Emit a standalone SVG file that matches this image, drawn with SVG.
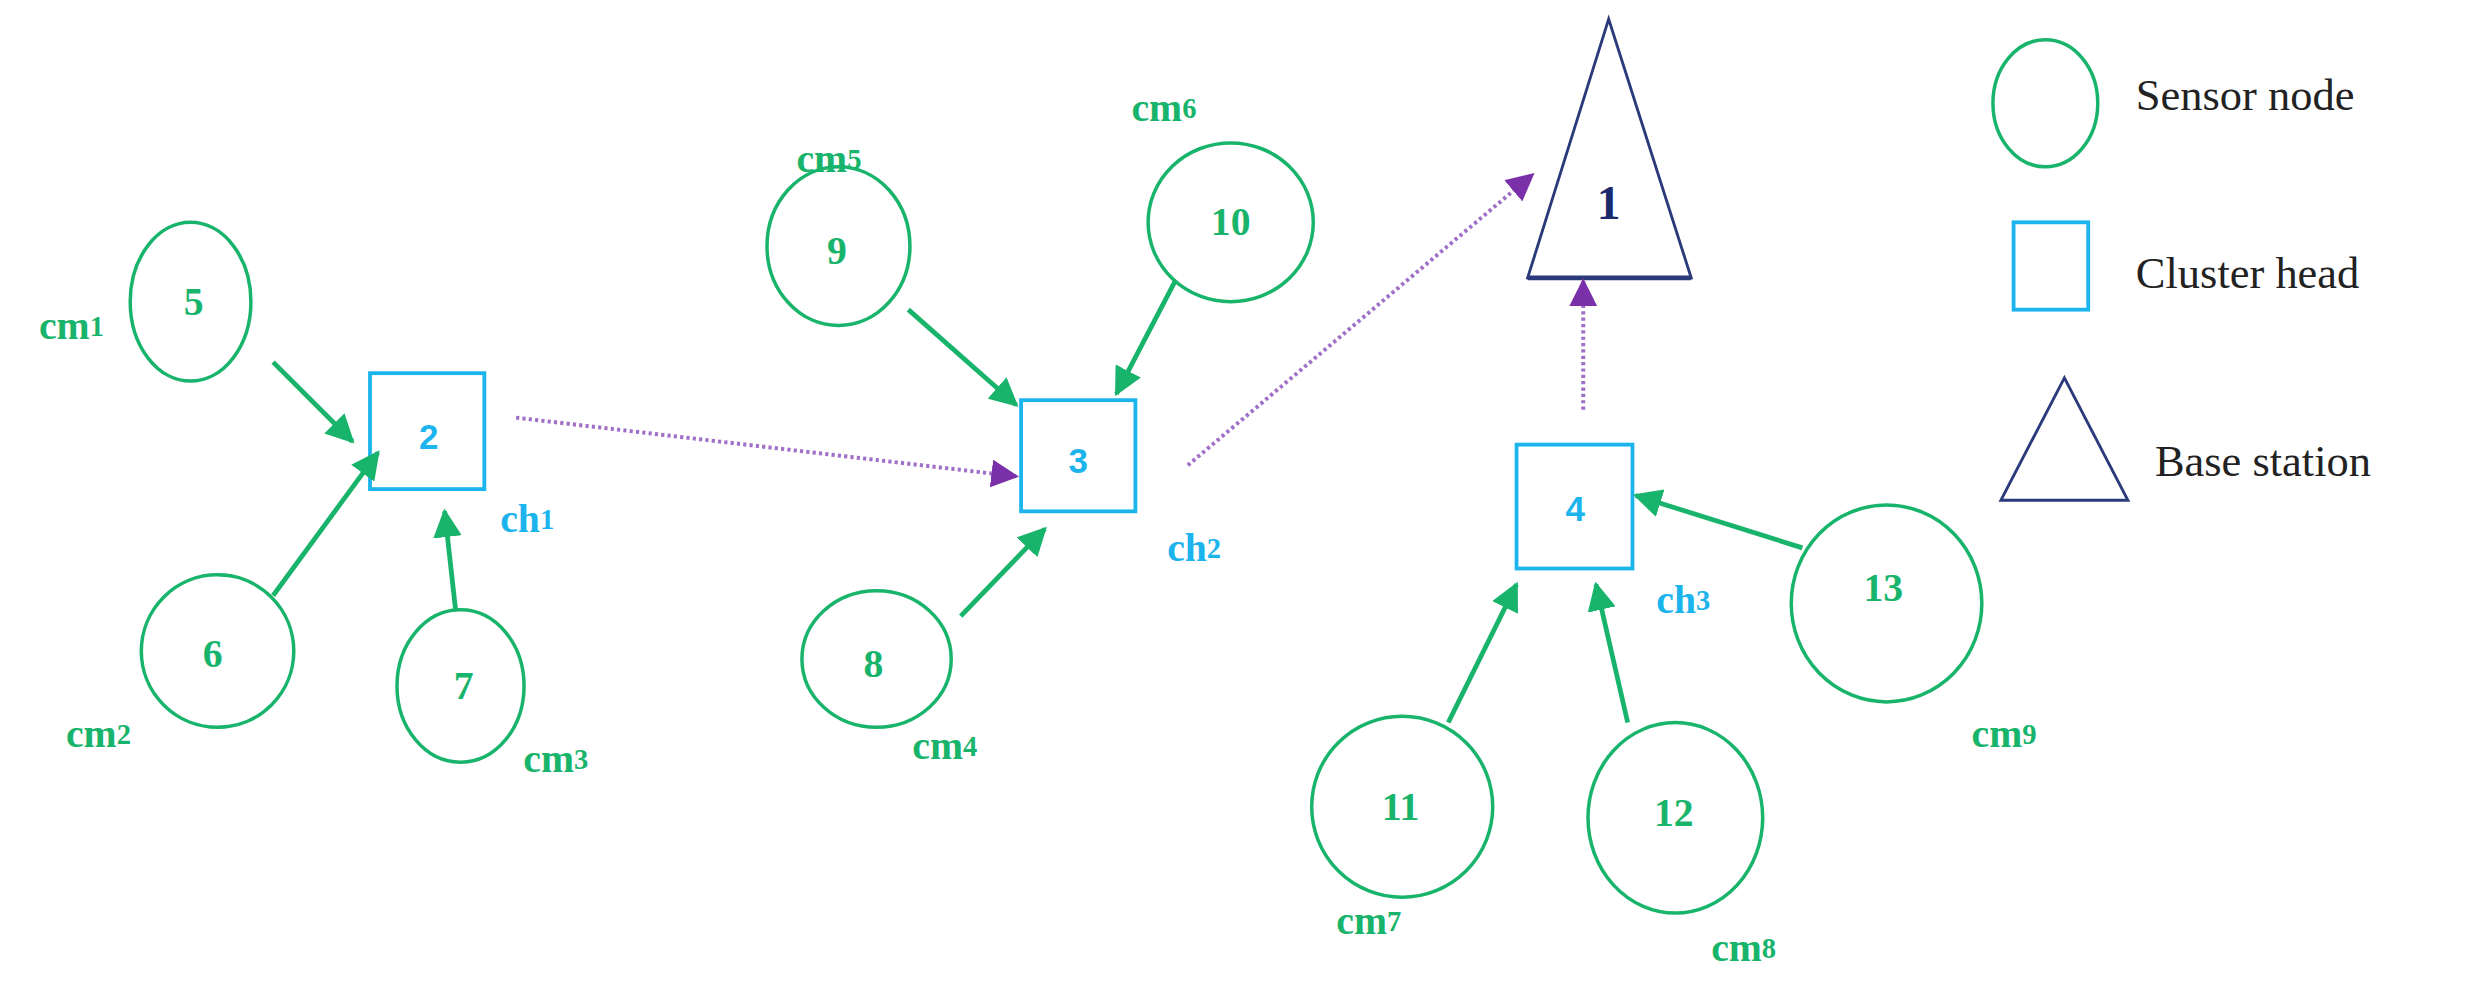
<svg xmlns="http://www.w3.org/2000/svg" width="2490" height="993" viewBox="0 0 2490 993">
<style>
.s{fill:none;stroke:#19b46c;stroke-width:2.2}
.h{fill:none;stroke:#1cb4ec;stroke-width:2.4}
.t{fill:#fff;stroke:#2b3a7a;stroke-width:1.8}
.n{font-family:"Liberation Serif",serif;font-weight:bold;font-size:25px;fill:#19b46c;text-anchor:middle;dominant-baseline:central}
.hn{font-family:"Liberation Sans",sans-serif;font-weight:bold;font-size:22px;fill:#1cb4ec;text-anchor:middle;dominant-baseline:central}
.l{font-family:"Liberation Serif",serif;font-weight:bold;font-size:25px;fill:#19b46c;text-anchor:middle;dominant-baseline:central}
.lh{font-family:"Liberation Serif",serif;font-weight:bold;font-size:25px;fill:#1cb4ec;text-anchor:middle;dominant-baseline:central}
.lg{font-family:"Liberation Serif",serif;font-size:28px;fill:#222;dominant-baseline:central}
.g{stroke:#19b46c;stroke-width:3;fill:none;marker-end:url(#ag)}
.p{stroke:#a070c8;stroke-width:2.5;stroke-dasharray:2 2;fill:none;marker-end:url(#ap)}
</style>
<defs>
<marker id="ag" viewBox="0 0 10 10" refX="9" refY="5" markerWidth="6" markerHeight="6" orient="auto"><path d="M0,0L10,5L0,10z" fill="#19b46c"/></marker>
<marker id="ap" viewBox="0 0 10 10" refX="9" refY="5" markerWidth="7" markerHeight="7" orient="auto"><path d="M0,0L10,5L0,10z" fill="#7a30a8"/></marker>
</defs>
<rect width="2490" height="993" fill="#fff"/>
<g transform="scale(1.588)">
<g id="n1"><polygon class="t" points="1013,12 962,175 1065,175"/><line x1="962" y1="175" x2="1065" y2="175" stroke="#2b3a7a" stroke-width="3"/><text x="1013" y="128" class="n" style="fill:#1a2a6a;font-size:30px">1</text></g>
<g id="n2"><rect class="h" x="233" y="235" width="72" height="73"/><text x="270" y="275" class="hn">2</text><text x="332" y="327" class="lh">ch<tspan font-size="18">1</tspan></text></g>
<g id="n3"><rect class="h" x="643" y="252" width="72" height="70"/><text x="679" y="290" class="hn">3</text><text x="752" y="345" class="lh">ch<tspan font-size="18">2</tspan></text></g>
<g id="n4"><rect class="h" x="955" y="280" width="73" height="78"/><text x="992" y="320" class="hn">4</text><text x="1060" y="378" class="lh">ch<tspan font-size="18">3</tspan></text></g>
<g id="n5"><ellipse class="s" cx="120" cy="190" rx="38" ry="50"/><text x="122" y="190" class="n">5</text><text x="45" y="205" class="l">cm<tspan font-size="18">1</tspan></text></g>
<g id="n6"><ellipse class="s" cx="137" cy="410" rx="48" ry="48"/><text x="134" y="412" class="n">6</text><text x="62" y="462" class="l">cm<tspan font-size="18">2</tspan></text></g>
<g id="n7"><ellipse class="s" cx="290" cy="432" rx="40" ry="48"/><text x="292" y="432" class="n">7</text><text x="350" y="478" class="l">cm<tspan font-size="18">3</tspan></text></g>
<g id="n8"><ellipse class="s" cx="552" cy="415" rx="47" ry="43"/><text x="550" y="418" class="n">8</text><text x="595" y="470" class="l">cm<tspan font-size="18">4</tspan></text></g>
<g id="n9"><ellipse class="s" cx="528" cy="155" rx="45" ry="50"/><text x="527" y="158" class="n">9</text><text x="522" y="100" class="l">cm<tspan font-size="18">5</tspan></text></g>
<g id="n10"><ellipse class="s" cx="775" cy="140" rx="52" ry="50"/><text x="775" y="140" class="n">10</text><text x="733" y="68" class="l">cm<tspan font-size="18">6</tspan></text></g>
<g id="n11"><ellipse class="s" cx="883" cy="508" rx="57" ry="57"/><text x="882" y="508" class="n">11</text><text x="862" y="580" class="l">cm<tspan font-size="18">7</tspan></text></g>
<g id="n12"><ellipse class="s" cx="1055" cy="515" rx="55" ry="60"/><text x="1054" y="512" class="n">12</text><text x="1098" y="597" class="l">cm<tspan font-size="18">8</tspan></text></g>
<g id="n13"><ellipse class="s" cx="1188" cy="380" rx="60" ry="62"/><text x="1186" y="370" class="n">13</text><text x="1262" y="462" class="l">cm<tspan font-size="18">9</tspan></text></g>
<g id="legend">
<ellipse class="s" cx="1288" cy="65" rx="33" ry="40"/><text x="1345" y="60" class="lg">Sensor node</text>
<rect class="h" x="1268" y="140" width="47" height="55"/><text x="1345" y="172" class="lg">Cluster head</text>
<polygon class="t" points="1300,238 1260,315 1340,315"/><text x="1357" y="290" class="lg">Base station</text>
</g>
<g id="connectors">
<line class="g" x1="172" y1="228" x2="222" y2="278"/>
<line class="g" x1="172" y1="375" x2="238" y2="285"/>
<line class="g" x1="287" y1="385" x2="280" y2="322"/>
<line class="g" x1="572" y1="195" x2="640" y2="255"/>
<line class="g" x1="740" y1="177" x2="703" y2="248"/>
<line class="g" x1="605" y1="388" x2="658" y2="333"/>
<line class="g" x1="1135" y1="345" x2="1030" y2="312"/>
<line class="g" x1="912" y1="455" x2="955" y2="368"/>
<line class="g" x1="1025" y1="455" x2="1005" y2="368"/>
<line class="p" x1="325" y1="263" x2="640" y2="300"/>
<line class="p" x1="748" y1="293" x2="965" y2="110"/>
<line class="p" x1="997" y1="258" x2="997" y2="177"/>
</g>
</g>
</svg>
